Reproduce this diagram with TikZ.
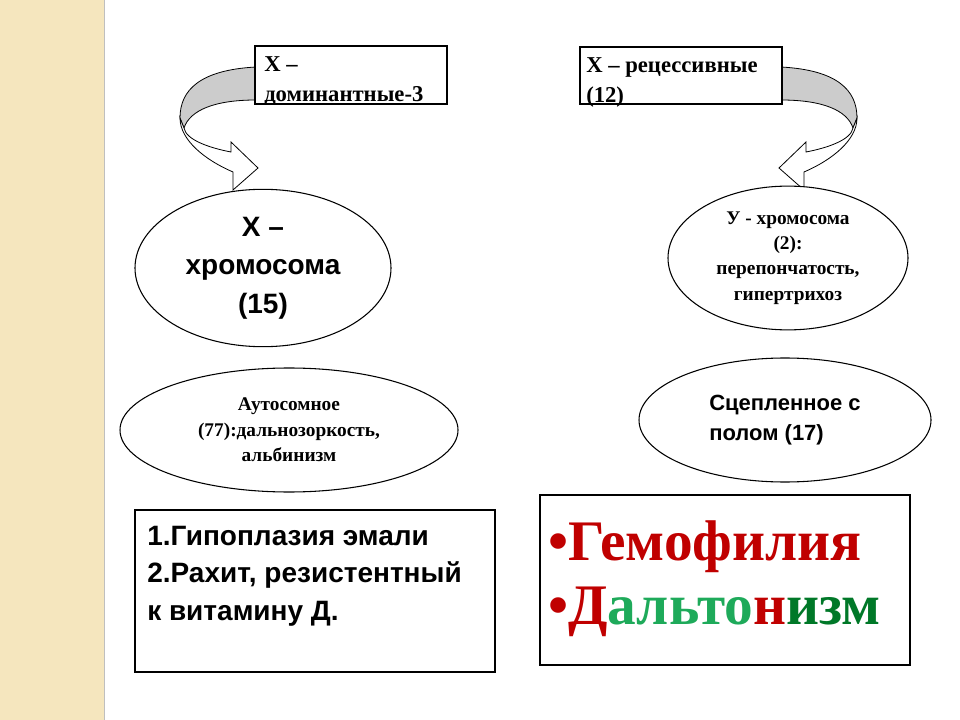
\documentclass[tikz,border=0pt]{standalone}
\usepackage{fontspec}
\setmainfont{Liberation Serif}
\newfontfamily\arialf{Liberation Sans}
\usetikzlibrary{shapes.geometric}
\definecolor{beige}{RGB}{245,230,190}
\definecolor{dred}{RGB}{192,0,0}
\definecolor{lgreen}{RGB}{30,170,90}
\definecolor{dgreen}{RGB}{0,120,40}
\tikzset{box/.style={draw,line width=0.8pt,fill=white},
ell/.style={draw,ellipse,line width=0.8pt,fill=white,font=\bfseries,align=center},
rib/.style={draw,line width=0.6pt}}
\begin{document}
\begin{tikzpicture}[x=0.75pt,y=-0.75pt]
\useasboundingbox (0,0) rectangle (960,720);
\fill[white] (0,0) rectangle (960,720);
\fill[beige] (0,0) rectangle (104,720);
\draw[black!25] (104,0) -- (104,720);
% ribbon arrows
\foreach \s/\o in {1/0,-1/1037}{
\begin{scope}[xshift=\o*0.75pt, xscale=\s]
\draw[rib,fill=black!20] (256,67) .. controls (200,70) and (180,90) .. (180,118) -- (184,128) .. controls (190,110) and (215,100) .. (256,100) -- cycle;
\draw[rib,fill=white] (180,118) .. controls (180,140) and (205,160) .. (233,172) -- (233,190) -- (258,168) -- (231,142) -- (231,152) .. controls (210,148) and (186,140) .. (184,128) -- cycle;
\end{scope}}
\draw[box] (255,46) rectangle (447,104);
\node[anchor=north west,align=left,font=\fontsize{17}{23}\selectfont\bfseries,inner sep=0] (b1) at (264,56) {Х –\\доминантные-3};
\draw[box] (580,47) rectangle (782,104);
\node[anchor=north west,align=left,font=\fontsize{17}{23}\selectfont\bfseries,inner sep=0] (b2) at (586,57) {Х – рецессивные\\(12)};
\node[ell,minimum width=256*0.75pt,minimum height=156*0.75pt,font=\fontsize{21}{29}\selectfont\arialf\bfseries] (e1) at (263,268) {Х –\\хромосома\\(15)};
\node[ell,minimum width=240*0.75pt,minimum height=140*0.75pt,font=\fontsize{14.5}{19}\selectfont\bfseries] (e2) at (788,258) {У - хромосома\\(2):\\перепончатость,\\гипертрихоз};
\node[ell,minimum width=338*0.75pt,minimum height=124*0.75pt,font=\fontsize{14.5}{19}\selectfont\bfseries] (e3) at (289,430) {Аутосомное\\(77):дальнозоркость,\\альбинизм};
\node[ell,minimum width=292*0.75pt,minimum height=124*0.75pt,font=\fontsize{16.5}{23}\selectfont\arialf\bfseries,align=left] (e4) at (785,420) {Сцепленное с\\полом (17)};
\draw[box] (135,510) rectangle (495,672);
\node[anchor=north west,align=left,font=\fontsize{21}{28}\selectfont\arialf\bfseries,inner sep=0] (t1) at (147,526) {1.Гипоплазия эмали\\2.Рахит, резистентный\\к витамину Д.};
\draw[box] (540,495) rectangle (910,665);
\node[anchor=north west,align=left,font=\fontsize{43}{48}\selectfont\bfseries,inner sep=0] (t2) at (548,520) {\textcolor{dred}{•Гемофилия}\\\textcolor{dred}{•Д}\textcolor{lgreen}{альто}\textcolor{dred}{н}\textcolor{dgreen}{изм}};
\end{tikzpicture}
\end{document}
